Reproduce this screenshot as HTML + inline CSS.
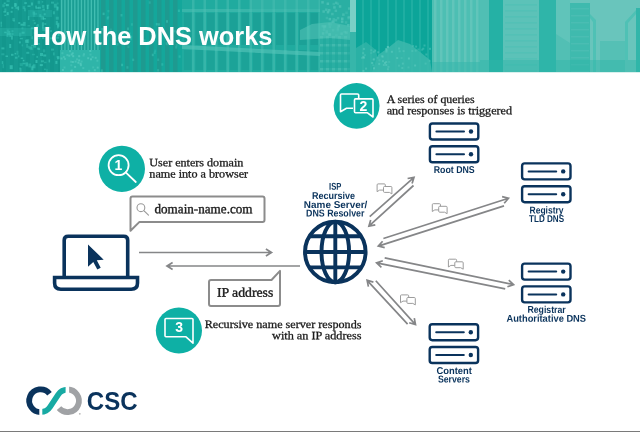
<!DOCTYPE html>
<html>
<head>
<meta charset="utf-8">
<title>How the DNS works</title>
<style>
html,body{margin:0;padding:0;background:#fff;}
body{width:640px;height:432px;position:relative;overflow:hidden;font-family:"Liberation Sans",sans-serif;}
#hdr{position:absolute;left:0;top:0;width:640px;height:72px;overflow:hidden;background:#1fa59a;}
#main{position:absolute;left:0;top:0;will-change:transform;}
#botline{position:absolute;left:0;top:431px;width:640px;height:1px;background:#7a7a7a;}
</style>
</head>
<body>
<div id="hdr">
<svg width="640" height="72" viewBox="0 0 640 72">
<defs>
<linearGradient id="hg" x1="0" x2="1" y1="0" y2="0">
<stop offset="0" stop-color="#14a296"/>
<stop offset="0.25" stop-color="#1aa69a"/>
<stop offset="0.5" stop-color="#2eb0a4"/>
<stop offset="1" stop-color="#3ab8ac"/>
</linearGradient>
</defs>
<rect width="640" height="72" fill="url(#hg)"/>
<rect x="0" y="0" width="100" height="72" fill="#169b91"/>
<rect x="2" y="0" width="4" height="72" fill="#0f9389" opacity="0.5"/>
<rect x="10" y="0" width="4" height="72" fill="#0f9389" opacity="0.5"/>
<rect x="18" y="0" width="4" height="72" fill="#0f9389" opacity="0.5"/>
<rect x="26" y="0" width="4" height="72" fill="#0f9389" opacity="0.5"/>
<rect x="34" y="0" width="4" height="72" fill="#0f9389" opacity="0.5"/>
<rect x="42" y="0" width="4" height="72" fill="#0f9389" opacity="0.5"/>
<rect x="50" y="0" width="4" height="72" fill="#0f9389" opacity="0.5"/>
<rect x="58" y="0" width="4" height="72" fill="#0f9389" opacity="0.5"/>
<rect x="26.2" y="39.2" width="3" height="4" fill="#38c2b4" opacity="0.58"/>
<rect x="34.1" y="12.9" width="3" height="2" fill="#38c2b4" opacity="0.39"/>
<rect x="17.6" y="6.3" width="1.5" height="4" fill="#38c2b4" opacity="0.78"/>
<rect x="37.9" y="43.1" width="2" height="1.5" fill="#38c2b4" opacity="0.72"/>
<rect x="3.7" y="2.5" width="2" height="1.5" fill="#38c2b4" opacity="0.7"/>
<rect x="18.9" y="41.4" width="2" height="2" fill="#38c2b4" opacity="0.64"/>
<rect x="29.0" y="46.4" width="3" height="3" fill="#38c2b4" opacity="0.53"/>
<rect x="32.0" y="65.2" width="1.5" height="3" fill="#38c2b4" opacity="0.49"/>
<rect x="13.3" y="20.2" width="1.5" height="1.5" fill="#38c2b4" opacity="0.53"/>
<rect x="49.1" y="27.1" width="1.5" height="1.5" fill="#38c2b4" opacity="0.45"/>
<rect x="53.8" y="3.7" width="3" height="4" fill="#38c2b4" opacity="0.54"/>
<rect x="32.8" y="13.9" width="2.5" height="3" fill="#38c2b4" opacity="0.39"/>
<rect x="19.3" y="67.5" width="1.5" height="2" fill="#38c2b4" opacity="0.46"/>
<rect x="5.9" y="4.2" width="3" height="2" fill="#38c2b4" opacity="0.66"/>
<rect x="10.9" y="35.6" width="2" height="4" fill="#38c2b4" opacity="0.64"/>
<rect x="6.8" y="29.5" width="2" height="1.5" fill="#38c2b4" opacity="0.47"/>
<rect x="56.3" y="56.2" width="2.5" height="1.5" fill="#38c2b4" opacity="0.44"/>
<rect x="22.9" y="59.8" width="1.5" height="1.5" fill="#38c2b4" opacity="0.8"/>
<rect x="12.4" y="18.1" width="2.5" height="3" fill="#38c2b4" opacity="0.52"/>
<rect x="4.3" y="14.6" width="2" height="1.5" fill="#38c2b4" opacity="0.62"/>
<rect x="21.6" y="31.7" width="3" height="2" fill="#38c2b4" opacity="0.74"/>
<rect x="10.6" y="10.8" width="2" height="2" fill="#38c2b4" opacity="0.68"/>
<rect x="9.2" y="44.0" width="2" height="4" fill="#38c2b4" opacity="0.75"/>
<rect x="35.0" y="29.5" width="1.5" height="1.5" fill="#38c2b4" opacity="0.37"/>
<rect x="55.8" y="16.7" width="3" height="3" fill="#38c2b4" opacity="0.54"/>
<rect x="52.5" y="34.4" width="2" height="1.5" fill="#38c2b4" opacity="0.41"/>
<rect x="27.8" y="45.7" width="1.5" height="3" fill="#38c2b4" opacity="0.45"/>
<rect x="53.1" y="52.4" width="1.5" height="3" fill="#38c2b4" opacity="0.54"/>
<rect x="14.4" y="3.3" width="2.5" height="3" fill="#38c2b4" opacity="0.59"/>
<rect x="56.4" y="6.5" width="2" height="4" fill="#38c2b4" opacity="0.79"/>
<rect x="38.1" y="48.4" width="2" height="1.5" fill="#38c2b4" opacity="0.77"/>
<rect x="27.5" y="25.0" width="2.5" height="1.5" fill="#38c2b4" opacity="0.36"/>
<rect x="36.9" y="33.8" width="2.5" height="3" fill="#38c2b4" opacity="0.41"/>
<rect x="4.2" y="31.7" width="2.5" height="1.5" fill="#38c2b4" opacity="0.76"/>
<rect x="42.8" y="49.3" width="2.5" height="3" fill="#38c2b4" opacity="0.39"/>
<rect x="27.5" y="5.4" width="3" height="1.5" fill="#38c2b4" opacity="0.74"/>
<rect x="33.2" y="43.7" width="3" height="4" fill="#38c2b4" opacity="0.61"/>
<rect x="35.3" y="5.6" width="1.5" height="3" fill="#38c2b4" opacity="0.75"/>
<rect x="42.2" y="27.2" width="3" height="4" fill="#38c2b4" opacity="0.56"/>
<rect x="31.4" y="36.3" width="1.5" height="3" fill="#38c2b4" opacity="0.62"/>
<rect x="27.9" y="16.1" width="1.5" height="4" fill="#38c2b4" opacity="0.7"/>
<rect x="38.3" y="34.0" width="1.5" height="3" fill="#38c2b4" opacity="0.49"/>
<rect x="39.3" y="14.2" width="2" height="3" fill="#38c2b4" opacity="0.65"/>
<rect x="25.6" y="62.4" width="2.5" height="4" fill="#38c2b4" opacity="0.65"/>
<rect x="11.5" y="30.2" width="2" height="2" fill="#38c2b4" opacity="0.52"/>
<rect x="33.8" y="22.2" width="2" height="2" fill="#38c2b4" opacity="0.57"/>
<rect x="48.6" y="59.4" width="1.5" height="3" fill="#38c2b4" opacity="0.72"/>
<rect x="6.5" y="33.0" width="2" height="4" fill="#38c2b4" opacity="0.52"/>
<rect x="30.2" y="47.1" width="3" height="3" fill="#38c2b4" opacity="0.38"/>
<rect x="1.8" y="61.1" width="1.5" height="3" fill="#38c2b4" opacity="0.61"/>
<rect x="17.9" y="55.4" width="1.5" height="2" fill="#38c2b4" opacity="0.53"/>
<rect x="11.0" y="53.8" width="2.5" height="2" fill="#38c2b4" opacity="0.7"/>
<rect x="46.2" y="68.9" width="1.5" height="4" fill="#38c2b4" opacity="0.4"/>
<rect x="31.1" y="44.8" width="2.5" height="1.5" fill="#38c2b4" opacity="0.66"/>
<rect x="11.6" y="33.3" width="2" height="1.5" fill="#38c2b4" opacity="0.69"/>
<rect x="31.0" y="2.5" width="2" height="3" fill="#38c2b4" opacity="0.7"/>
<rect x="31.3" y="66.3" width="2" height="4" fill="#38c2b4" opacity="0.73"/>
<rect x="40.6" y="15.7" width="3" height="4" fill="#38c2b4" opacity="0.41"/>
<rect x="26.3" y="43.8" width="1.5" height="4" fill="#38c2b4" opacity="0.6"/>
<rect x="37.9" y="35.2" width="2.5" height="4" fill="#38c2b4" opacity="0.5"/>
<rect x="57.0" y="6.9" width="1.5" height="2" fill="#38c2b4" opacity="0.46"/>
<rect x="22.6" y="6.1" width="2.5" height="3" fill="#38c2b4" opacity="0.47"/>
<rect x="41.7" y="1.1" width="1.5" height="1.5" fill="#38c2b4" opacity="0.55"/>
<rect x="31.9" y="53.8" width="3" height="1.5" fill="#38c2b4" opacity="0.45"/>
<rect x="50.3" y="30.0" width="1.5" height="2" fill="#38c2b4" opacity="0.59"/>
<rect x="39.8" y="64.1" width="3" height="2" fill="#38c2b4" opacity="0.8"/>
<rect x="52.2" y="36.3" width="3" height="4" fill="#38c2b4" opacity="0.61"/>
<rect x="40.0" y="53.0" width="3" height="3" fill="#38c2b4" opacity="0.72"/>
<rect x="32.6" y="11.5" width="2.5" height="3" fill="#38c2b4" opacity="0.65"/>
<rect x="55.4" y="60.9" width="2" height="3" fill="#38c2b4" opacity="0.73"/>
<rect x="56.2" y="36.7" width="3" height="2" fill="#38c2b4" opacity="0.53"/>
<rect x="6.6" y="0.3" width="3" height="1.5" fill="#38c2b4" opacity="0.59"/>
<rect x="2.5" y="64.2" width="1.5" height="4" fill="#38c2b4" opacity="0.39"/>
<rect x="9.7" y="65.2" width="3" height="4" fill="#38c2b4" opacity="0.76"/>
<rect x="46.4" y="28.3" width="2" height="4" fill="#38c2b4" opacity="0.57"/>
<rect x="19.7" y="63.1" width="3" height="3" fill="#38c2b4" opacity="0.4"/>
<rect x="24.3" y="2.1" width="2.5" height="2" fill="#38c2b4" opacity="0.67"/>
<rect x="56.7" y="2.5" width="2" height="2" fill="#38c2b4" opacity="0.36"/>
<rect x="16.5" y="50.7" width="2" height="4" fill="#38c2b4" opacity="0.4"/>
<rect x="42.4" y="8.6" width="2.5" height="2" fill="#38c2b4" opacity="0.67"/>
<rect x="51.0" y="1.6" width="3" height="2" fill="#38c2b4" opacity="0.59"/>
<rect x="50.1" y="37.4" width="2" height="2" fill="#38c2b4" opacity="0.73"/>
<rect x="35.5" y="60.0" width="2" height="3" fill="#38c2b4" opacity="0.76"/>
<rect x="18.3" y="22.0" width="2" height="2" fill="#38c2b4" opacity="0.7"/>
<rect x="11.3" y="6.8" width="2" height="2" fill="#38c2b4" opacity="0.68"/>
<rect x="15.1" y="6.8" width="3" height="2" fill="#38c2b4" opacity="0.44"/>
<rect x="36.4" y="55.9" width="1.5" height="2" fill="#38c2b4" opacity="0.61"/>
<rect x="20.7" y="57.5" width="2.5" height="1.5" fill="#38c2b4" opacity="0.67"/>
<rect x="36.8" y="24.0" width="2" height="1.5" fill="#38c2b4" opacity="0.57"/>
<rect x="1.4" y="53.3" width="3" height="2" fill="#38c2b4" opacity="0.44"/>
<rect x="6.7" y="12.1" width="2" height="3" fill="#38c2b4" opacity="0.77"/>
<rect x="5.5" y="4.3" width="3" height="1.5" fill="#38c2b4" opacity="0.69"/>
<rect x="19.0" y="32.7" width="2.5" height="4" fill="#38c2b4" opacity="0.44"/>
<rect x="21.6" y="44.4" width="1.5" height="2" fill="#38c2b4" opacity="0.43"/>
<rect x="26.3" y="51.8" width="3" height="2" fill="#38c2b4" opacity="0.62"/>
<rect x="5.5" y="55.5" width="2.5" height="1.5" fill="#38c2b4" opacity="0.71"/>
<rect x="40.9" y="60.3" width="3" height="2" fill="#38c2b4" opacity="0.58"/>
<rect x="57.0" y="56.3" width="2.5" height="3" fill="#38c2b4" opacity="0.76"/>
<rect x="43.2" y="54.5" width="3" height="2" fill="#38c2b4" opacity="0.75"/>
<rect x="51.0" y="48.6" width="3" height="2" fill="#38c2b4" opacity="0.53"/>
<rect x="41.9" y="4.9" width="2.5" height="3" fill="#38c2b4" opacity="0.56"/>
<rect x="0.6" y="24.9" width="1.5" height="2" fill="#38c2b4" opacity="0.47"/>
<rect x="55.8" y="20.9" width="2" height="4" fill="#38c2b4" opacity="0.61"/>
<rect x="30.9" y="27.3" width="3" height="2" fill="#38c2b4" opacity="0.67"/>
<rect x="44.2" y="68.6" width="1.5" height="1.5" fill="#38c2b4" opacity="0.63"/>
<rect x="42.9" y="18.0" width="3" height="1.5" fill="#38c2b4" opacity="0.69"/>
<rect x="37.6" y="0.8" width="2.5" height="3" fill="#38c2b4" opacity="0.47"/>
<rect x="19.8" y="37.8" width="3" height="1.5" fill="#38c2b4" opacity="0.64"/>
<rect x="47.0" y="5.3" width="1.5" height="4" fill="#38c2b4" opacity="0.77"/>
<rect x="9.3" y="33.0" width="2" height="4" fill="#38c2b4" opacity="0.59"/>
<rect x="34.6" y="30.1" width="3" height="4" fill="#38c2b4" opacity="0.48"/>
<rect x="23.1" y="21.9" width="2.5" height="4" fill="#38c2b4" opacity="0.64"/>
<rect x="32.5" y="19.8" width="2.5" height="1.5" fill="#38c2b4" opacity="0.36"/>
<rect x="14.2" y="3.0" width="2" height="4" fill="#38c2b4" opacity="0.69"/>
<rect x="22.6" y="62.8" width="3" height="1.5" fill="#38c2b4" opacity="0.61"/>
<rect x="41.9" y="22.3" width="2" height="4" fill="#38c2b4" opacity="0.67"/>
<rect x="14.6" y="52.9" width="1.5" height="1.5" fill="#38c2b4" opacity="0.77"/>
<rect x="41.9" y="32.8" width="2" height="1.5" fill="#38c2b4" opacity="0.37"/>
<rect x="24.2" y="8.3" width="1.5" height="3" fill="#38c2b4" opacity="0.59"/>
<rect x="7.2" y="31.0" width="3" height="4" fill="#38c2b4" opacity="0.62"/>
<rect x="37.1" y="47.7" width="2.5" height="2" fill="#38c2b4" opacity="0.78"/>
<rect x="42.6" y="16.7" width="1.5" height="3" fill="#38c2b4" opacity="0.7"/>
<rect x="36.2" y="25.1" width="2.5" height="2" fill="#38c2b4" opacity="0.63"/>
<rect x="43.7" y="13.3" width="2" height="2" fill="#38c2b4" opacity="0.75"/>
<rect x="2.3" y="4.3" width="2.5" height="3" fill="#38c2b4" opacity="0.54"/>
<rect x="36.2" y="7.2" width="2.5" height="1.5" fill="#38c2b4" opacity="0.69"/>
<rect x="52.9" y="11.3" width="2" height="3" fill="#38c2b4" opacity="0.57"/>
<rect x="20.5" y="23.7" width="3" height="2" fill="#38c2b4" opacity="0.73"/>
<rect x="4.3" y="8.4" width="2" height="4" fill="#38c2b4" opacity="0.54"/>
<rect x="15.0" y="56.7" width="2.5" height="2" fill="#38c2b4" opacity="0.64"/>
<rect x="57.4" y="22.8" width="2" height="4" fill="#38c2b4" opacity="0.64"/>
<rect x="33.7" y="32.3" width="2.5" height="1.5" fill="#38c2b4" opacity="0.59"/>
<rect x="25.1" y="39.8" width="3" height="3" fill="#38c2b4" opacity="0.72"/>
<rect x="0.5" y="21.7" width="1.5" height="3" fill="#38c2b4" opacity="0.57"/>
<rect x="44.3" y="23.0" width="2" height="2" fill="#38c2b4" opacity="0.51"/>
<rect x="42.1" y="25.6" width="1.5" height="3" fill="#38c2b4" opacity="0.67"/>
<rect x="33.0" y="64.3" width="2.5" height="4" fill="#38c2b4" opacity="0.59"/>
<rect x="57.6" y="32.1" width="2" height="4" fill="#38c2b4" opacity="0.79"/>
<rect x="42.3" y="36.1" width="1.5" height="3" fill="#38c2b4" opacity="0.72"/>
<rect x="1.4" y="47.4" width="3" height="2" fill="#38c2b4" opacity="0.68"/>
<rect x="21.4" y="27.3" width="2" height="2" fill="#38c2b4" opacity="0.43"/>
<rect x="44.0" y="61.7" width="2.5" height="1.5" fill="#38c2b4" opacity="0.45"/>
<rect x="3.3" y="11.1" width="2.5" height="1.5" fill="#38c2b4" opacity="0.64"/>
<rect x="46.7" y="4.5" width="2.5" height="1.5" fill="#38c2b4" opacity="0.5"/>
<rect x="15.9" y="7.4" width="2.5" height="1.5" fill="#38c2b4" opacity="0.36"/>
<rect x="37.9" y="6.8" width="3" height="2" fill="#38c2b4" opacity="0.67"/>
<rect x="28.4" y="63.5" width="2.5" height="4" fill="#38c2b4" opacity="0.53"/>
<rect x="19.6" y="67.8" width="2" height="4" fill="#38c2b4" opacity="0.57"/>
<rect x="46.7" y="5.1" width="1.5" height="4" fill="#38c2b4" opacity="0.69"/>
<rect x="57.2" y="24.4" width="1.5" height="4" fill="#38c2b4" opacity="0.73"/>
<rect x="0" y="28" width="32" height="8" fill="#30bbae" opacity="0.35"/>
<rect x="28" y="10" width="24" height="7" fill="#30bbae" opacity="0.3"/>
<rect x="60" y="0" width="40" height="50" fill="#1b9e94"/>
<rect x="61" y="0" width="1.3" height="50" fill="#4cc6b9" opacity="0.8"/>
<rect x="64.3" y="0" width="1.3" height="50" fill="#4cc6b9" opacity="0.8"/>
<rect x="67.6" y="0" width="1.3" height="50" fill="#4cc6b9" opacity="0.8"/>
<rect x="70.9" y="0" width="1.3" height="50" fill="#4cc6b9" opacity="0.8"/>
<rect x="74.2" y="0" width="1.3" height="50" fill="#4cc6b9" opacity="0.8"/>
<rect x="77.5" y="0" width="1.3" height="50" fill="#4cc6b9" opacity="0.8"/>
<rect x="80.8" y="0" width="1.3" height="50" fill="#4cc6b9" opacity="0.8"/>
<rect x="84.1" y="0" width="1.3" height="50" fill="#4cc6b9" opacity="0.8"/>
<rect x="87.4" y="0" width="1.3" height="50" fill="#4cc6b9" opacity="0.8"/>
<rect x="90.7" y="0" width="1.3" height="50" fill="#4cc6b9" opacity="0.8"/>
<rect x="94.0" y="0" width="1.3" height="50" fill="#4cc6b9" opacity="0.8"/>
<rect x="97.3" y="0" width="1.3" height="50" fill="#4cc6b9" opacity="0.8"/>
<rect x="60" y="50" width="40" height="22" fill="#2fb5a9"/>
<rect x="93.8" y="69.2" width="2" height="2" fill="#55cbbf" opacity="0.66"/>
<rect x="79.9" y="64.2" width="2" height="2" fill="#55cbbf" opacity="0.72"/>
<rect x="76.0" y="58.4" width="2" height="2" fill="#55cbbf" opacity="0.46"/>
<rect x="88.2" y="69.8" width="2" height="2" fill="#55cbbf" opacity="0.55"/>
<rect x="66.4" y="54.1" width="2" height="2" fill="#55cbbf" opacity="0.57"/>
<rect x="71.1" y="69.4" width="2" height="2" fill="#55cbbf" opacity="0.42"/>
<rect x="71.7" y="52.3" width="2" height="2" fill="#55cbbf" opacity="0.66"/>
<rect x="89.5" y="53.6" width="2" height="2" fill="#55cbbf" opacity="0.42"/>
<rect x="77.4" y="61.7" width="2" height="2" fill="#55cbbf" opacity="0.76"/>
<rect x="61.4" y="52.2" width="2" height="2" fill="#55cbbf" opacity="0.47"/>
<rect x="68.3" y="54.7" width="2" height="2" fill="#55cbbf" opacity="0.69"/>
<rect x="82.6" y="54.5" width="2" height="2" fill="#55cbbf" opacity="0.47"/>
<rect x="70.7" y="53.5" width="2" height="2" fill="#55cbbf" opacity="0.7"/>
<rect x="71.8" y="61.0" width="2" height="2" fill="#55cbbf" opacity="0.73"/>
<rect x="78.2" y="55.2" width="2" height="2" fill="#55cbbf" opacity="0.75"/>
<rect x="94.7" y="56.8" width="2" height="2" fill="#55cbbf" opacity="0.62"/>
<rect x="96.4" y="59.7" width="2" height="2" fill="#55cbbf" opacity="0.49"/>
<rect x="61.9" y="69.0" width="2" height="2" fill="#55cbbf" opacity="0.72"/>
<rect x="74.6" y="60.6" width="2" height="2" fill="#55cbbf" opacity="0.61"/>
<rect x="70.4" y="69.8" width="2" height="2" fill="#55cbbf" opacity="0.66"/>
<rect x="69.0" y="50.2" width="2" height="2" fill="#55cbbf" opacity="0.59"/>
<rect x="74.1" y="65.9" width="2" height="2" fill="#55cbbf" opacity="0.69"/>
<rect x="83.0" y="53.1" width="2" height="2" fill="#55cbbf" opacity="0.46"/>
<rect x="72.2" y="55.2" width="2" height="2" fill="#55cbbf" opacity="0.75"/>
<rect x="79.6" y="62.7" width="2" height="2" fill="#55cbbf" opacity="0.8"/>
<rect x="70.1" y="60.7" width="2" height="2" fill="#55cbbf" opacity="0.46"/>
<rect x="89.3" y="50.0" width="2" height="2" fill="#55cbbf" opacity="0.73"/>
<rect x="92.2" y="66.4" width="2" height="2" fill="#55cbbf" opacity="0.43"/>
<rect x="70.3" y="64.3" width="2" height="2" fill="#55cbbf" opacity="0.44"/>
<rect x="78.2" y="59.4" width="2" height="2" fill="#55cbbf" opacity="0.78"/>
<rect x="82.3" y="67.1" width="2" height="2" fill="#55cbbf" opacity="0.52"/>
<rect x="90.0" y="58.3" width="2" height="2" fill="#55cbbf" opacity="0.77"/>
<rect x="63.5" y="66.5" width="2" height="2" fill="#55cbbf" opacity="0.48"/>
<rect x="80.6" y="60.5" width="2" height="2" fill="#55cbbf" opacity="0.46"/>
<rect x="91.6" y="56.2" width="2" height="2" fill="#55cbbf" opacity="0.52"/>
<rect x="62.9" y="56.1" width="2" height="2" fill="#55cbbf" opacity="0.59"/>
<rect x="87.2" y="57.2" width="2" height="2" fill="#55cbbf" opacity="0.67"/>
<rect x="64.0" y="57.9" width="2" height="2" fill="#55cbbf" opacity="0.58"/>
<rect x="96.7" y="66.6" width="2" height="2" fill="#55cbbf" opacity="0.66"/>
<rect x="60.5" y="57.5" width="2" height="2" fill="#55cbbf" opacity="0.68"/>
<rect x="100" y="0" width="82" height="72" fill="#14a79b"/>
<rect x="101" y="0" width="4.5" height="72" fill="#278f87" opacity="0.55"/>
<rect x="109" y="0" width="4.5" height="72" fill="#278f87" opacity="0.55"/>
<rect x="117" y="0" width="4.5" height="72" fill="#278f87" opacity="0.55"/>
<rect x="125" y="0" width="4.5" height="72" fill="#278f87" opacity="0.55"/>
<rect x="133" y="0" width="4.5" height="72" fill="#278f87" opacity="0.55"/>
<rect x="141" y="0" width="4.5" height="72" fill="#278f87" opacity="0.55"/>
<rect x="149" y="0" width="4.5" height="72" fill="#278f87" opacity="0.55"/>
<rect x="157" y="0" width="4.5" height="72" fill="#278f87" opacity="0.55"/>
<rect x="165" y="0" width="4.5" height="72" fill="#278f87" opacity="0.55"/>
<rect x="173" y="0" width="4.5" height="72" fill="#278f87" opacity="0.55"/>
<rect x="119.0" y="39.5" width="2" height="2.5" fill="#3cc4b6" opacity="0.44"/>
<rect x="100.8" y="69.4" width="2" height="2.5" fill="#3cc4b6" opacity="0.54"/>
<rect x="116.5" y="43.1" width="2" height="2.5" fill="#3cc4b6" opacity="0.39"/>
<rect x="130.1" y="37.8" width="2" height="2.5" fill="#3cc4b6" opacity="0.39"/>
<rect x="127.0" y="27.5" width="2" height="2.5" fill="#3cc4b6" opacity="0.5"/>
<rect x="120.5" y="14.0" width="2" height="2.5" fill="#3cc4b6" opacity="0.52"/>
<rect x="126.4" y="66.2" width="2" height="2.5" fill="#3cc4b6" opacity="0.47"/>
<rect x="157.9" y="23.2" width="2" height="2.5" fill="#3cc4b6" opacity="0.55"/>
<rect x="107.4" y="9.9" width="2" height="2.5" fill="#3cc4b6" opacity="0.33"/>
<rect x="154.2" y="49.6" width="2" height="2.5" fill="#3cc4b6" opacity="0.35"/>
<rect x="132.2" y="58.6" width="2" height="2.5" fill="#3cc4b6" opacity="0.48"/>
<rect x="107.2" y="15.9" width="2" height="2.5" fill="#3cc4b6" opacity="0.35"/>
<rect x="109.9" y="28.5" width="2" height="2.5" fill="#3cc4b6" opacity="0.32"/>
<rect x="173.6" y="29.9" width="2" height="2.5" fill="#3cc4b6" opacity="0.45"/>
<rect x="151.8" y="53.7" width="2" height="2.5" fill="#3cc4b6" opacity="0.55"/>
<rect x="130.9" y="23.2" width="2" height="2.5" fill="#3cc4b6" opacity="0.42"/>
<rect x="101.2" y="28.0" width="2" height="2.5" fill="#3cc4b6" opacity="0.51"/>
<rect x="178.6" y="55.3" width="2" height="2.5" fill="#3cc4b6" opacity="0.5"/>
<rect x="148.7" y="1.3" width="2" height="2.5" fill="#3cc4b6" opacity="0.4"/>
<rect x="127.4" y="45.6" width="2" height="2.5" fill="#3cc4b6" opacity="0.33"/>
<rect x="130.2" y="35.7" width="2" height="2.5" fill="#3cc4b6" opacity="0.54"/>
<rect x="166.0" y="42.8" width="2" height="2.5" fill="#3cc4b6" opacity="0.35"/>
<rect x="161.3" y="63.2" width="2" height="2.5" fill="#3cc4b6" opacity="0.46"/>
<rect x="128.2" y="35.0" width="2" height="2.5" fill="#3cc4b6" opacity="0.34"/>
<rect x="157.1" y="69.1" width="2" height="2.5" fill="#3cc4b6" opacity="0.45"/>
<rect x="157.2" y="58.5" width="2" height="2.5" fill="#3cc4b6" opacity="0.36"/>
<rect x="175.6" y="43.9" width="2" height="2.5" fill="#3cc4b6" opacity="0.36"/>
<rect x="106.7" y="17.1" width="2" height="2.5" fill="#3cc4b6" opacity="0.47"/>
<rect x="155.8" y="23.0" width="2" height="2.5" fill="#3cc4b6" opacity="0.58"/>
<rect x="128.9" y="32.4" width="2" height="2.5" fill="#3cc4b6" opacity="0.34"/>
<rect x="177.9" y="9.5" width="2" height="2.5" fill="#3cc4b6" opacity="0.57"/>
<rect x="143.5" y="39.3" width="2" height="2.5" fill="#3cc4b6" opacity="0.47"/>
<rect x="121.1" y="63.7" width="2" height="2.5" fill="#3cc4b6" opacity="0.6"/>
<rect x="165.4" y="42.1" width="2" height="2.5" fill="#3cc4b6" opacity="0.34"/>
<rect x="166.0" y="20.2" width="2" height="2.5" fill="#3cc4b6" opacity="0.57"/>
<rect x="119.3" y="40.2" width="2" height="2.5" fill="#3cc4b6" opacity="0.55"/>
<rect x="114.8" y="38.3" width="2" height="2.5" fill="#3cc4b6" opacity="0.32"/>
<rect x="102.6" y="12.6" width="2" height="2.5" fill="#3cc4b6" opacity="0.6"/>
<rect x="175.2" y="46.1" width="2" height="2.5" fill="#3cc4b6" opacity="0.39"/>
<rect x="153.7" y="51.6" width="2" height="2.5" fill="#3cc4b6" opacity="0.41"/>
<rect x="182" y="0" width="138" height="72" fill="#20ab9f"/>
<rect x="184" y="13" width="7.5" height="32" fill="#1a9f95" opacity="0.8"/>
<rect x="184" y="50" width="7.5" height="20" fill="#1a9f95" opacity="0.6"/>
<rect x="192" y="0" width="2.5" height="72" fill="#55c4b8" opacity="0.42"/>
<rect x="195.5" y="13" width="7.5" height="32" fill="#1a9f95" opacity="0.8"/>
<rect x="195.5" y="50" width="7.5" height="20" fill="#1a9f95" opacity="0.6"/>
<rect x="203.5" y="0" width="2.5" height="72" fill="#55c4b8" opacity="0.42"/>
<rect x="207.0" y="13" width="7.5" height="32" fill="#1a9f95" opacity="0.8"/>
<rect x="207.0" y="50" width="7.5" height="20" fill="#1a9f95" opacity="0.6"/>
<rect x="215.0" y="0" width="2.5" height="72" fill="#55c4b8" opacity="0.42"/>
<rect x="218.5" y="13" width="7.5" height="32" fill="#1a9f95" opacity="0.8"/>
<rect x="218.5" y="50" width="7.5" height="20" fill="#1a9f95" opacity="0.6"/>
<rect x="226.5" y="0" width="2.5" height="72" fill="#55c4b8" opacity="0.42"/>
<rect x="230.0" y="13" width="7.5" height="32" fill="#1a9f95" opacity="0.8"/>
<rect x="230.0" y="50" width="7.5" height="20" fill="#1a9f95" opacity="0.6"/>
<rect x="238.0" y="0" width="2.5" height="72" fill="#55c4b8" opacity="0.42"/>
<rect x="241.5" y="13" width="7.5" height="32" fill="#1a9f95" opacity="0.8"/>
<rect x="241.5" y="50" width="7.5" height="20" fill="#1a9f95" opacity="0.6"/>
<rect x="249.5" y="0" width="2.5" height="72" fill="#55c4b8" opacity="0.42"/>
<rect x="253.0" y="13" width="7.5" height="32" fill="#1a9f95" opacity="0.8"/>
<rect x="253.0" y="50" width="7.5" height="20" fill="#1a9f95" opacity="0.6"/>
<rect x="261.0" y="0" width="2.5" height="72" fill="#55c4b8" opacity="0.42"/>
<rect x="264.5" y="13" width="7.5" height="32" fill="#1a9f95" opacity="0.8"/>
<rect x="264.5" y="50" width="7.5" height="20" fill="#1a9f95" opacity="0.6"/>
<rect x="272.5" y="0" width="2.5" height="72" fill="#55c4b8" opacity="0.42"/>
<rect x="276.0" y="13" width="7.5" height="32" fill="#1a9f95" opacity="0.8"/>
<rect x="276.0" y="50" width="7.5" height="20" fill="#1a9f95" opacity="0.6"/>
<rect x="284.0" y="0" width="2.5" height="72" fill="#55c4b8" opacity="0.42"/>
<rect x="287.5" y="13" width="7.5" height="32" fill="#1a9f95" opacity="0.8"/>
<rect x="287.5" y="50" width="7.5" height="20" fill="#1a9f95" opacity="0.6"/>
<rect x="295.5" y="0" width="2.5" height="72" fill="#55c4b8" opacity="0.42"/>
<rect x="299.0" y="13" width="7.5" height="32" fill="#1a9f95" opacity="0.8"/>
<rect x="299.0" y="50" width="7.5" height="20" fill="#1a9f95" opacity="0.6"/>
<rect x="307.0" y="0" width="2.5" height="72" fill="#55c4b8" opacity="0.42"/>
<rect x="310.5" y="13" width="7.5" height="32" fill="#1a9f95" opacity="0.8"/>
<rect x="310.5" y="50" width="7.5" height="20" fill="#1a9f95" opacity="0.6"/>
<rect x="318.5" y="0" width="2.5" height="72" fill="#55c4b8" opacity="0.42"/>
<rect x="182" y="9" width="138" height="3" fill="#50c2b6" opacity="0.5"/>
<path d="M182,45 L320,52 L320,56 L182,49 Z" fill="#58c6ba" opacity="0.6"/>
<rect x="250" y="0" width="70" height="9" fill="#45bbaf" opacity="0.4"/>
<rect x="320" y="0" width="30" height="72" fill="#2aafa3"/>
<rect x="320" y="36" width="34" height="2.5" fill="#52c2b6" opacity="0.6"/>
<rect x="320" y="44" width="34" height="2.5" fill="#52c2b6" opacity="0.6"/>
<rect x="320" y="52" width="34" height="2.5" fill="#52c2b6" opacity="0.6"/>
<rect x="320" y="60" width="34" height="2.5" fill="#52c2b6" opacity="0.6"/>
<rect x="320" y="68" width="34" height="2.5" fill="#52c2b6" opacity="0.6"/>
<rect x="323" y="36" width="3" height="36" fill="#1fa89c" opacity="0.6"/>
<rect x="329" y="36" width="3" height="36" fill="#1fa89c" opacity="0.6"/>
<rect x="335" y="36" width="3" height="36" fill="#1fa89c" opacity="0.6"/>
<rect x="341" y="36" width="3" height="36" fill="#1fa89c" opacity="0.6"/>
<rect x="347" y="36" width="3" height="36" fill="#1fa89c" opacity="0.6"/>
<rect x="336.6" y="28.9" width="2.5" height="2.5" fill="#55c6ba" opacity="0.31"/>
<rect x="325.6" y="16.8" width="2.5" height="2.5" fill="#55c6ba" opacity="0.36"/>
<rect x="330.8" y="20.5" width="2.5" height="2.5" fill="#55c6ba" opacity="0.37"/>
<rect x="334.6" y="9.5" width="2.5" height="2.5" fill="#55c6ba" opacity="0.53"/>
<rect x="329.3" y="23.1" width="2.5" height="2.5" fill="#55c6ba" opacity="0.32"/>
<rect x="338.8" y="5.2" width="2.5" height="2.5" fill="#55c6ba" opacity="0.68"/>
<rect x="336.8" y="16.9" width="2.5" height="2.5" fill="#55c6ba" opacity="0.46"/>
<rect x="337.5" y="24.8" width="2.5" height="2.5" fill="#55c6ba" opacity="0.6"/>
<rect x="341.0" y="17.5" width="2.5" height="2.5" fill="#55c6ba" opacity="0.7"/>
<rect x="343.5" y="30.8" width="2.5" height="2.5" fill="#55c6ba" opacity="0.46"/>
<rect x="332.2" y="20.4" width="2.5" height="2.5" fill="#55c6ba" opacity="0.66"/>
<rect x="334.7" y="18.9" width="2.5" height="2.5" fill="#55c6ba" opacity="0.47"/>
<rect x="345.3" y="11.5" width="2.5" height="2.5" fill="#55c6ba" opacity="0.32"/>
<rect x="340.3" y="32.4" width="2.5" height="2.5" fill="#55c6ba" opacity="0.59"/>
<rect x="336.7" y="27.1" width="2.5" height="2.5" fill="#55c6ba" opacity="0.42"/>
<rect x="336.6" y="2.5" width="2.5" height="2.5" fill="#55c6ba" opacity="0.35"/>
<rect x="332.5" y="18.1" width="2.5" height="2.5" fill="#55c6ba" opacity="0.46"/>
<rect x="321.5" y="25.0" width="2.5" height="2.5" fill="#55c6ba" opacity="0.51"/>
<rect x="326.7" y="11.0" width="2.5" height="2.5" fill="#55c6ba" opacity="0.46"/>
<rect x="326.6" y="2.5" width="2.5" height="2.5" fill="#55c6ba" opacity="0.66"/>
<rect x="347.1" y="24.0" width="2.5" height="2.5" fill="#55c6ba" opacity="0.65"/>
<rect x="331.8" y="29.0" width="2.5" height="2.5" fill="#55c6ba" opacity="0.39"/>
<rect x="340.9" y="20.4" width="2.5" height="2.5" fill="#55c6ba" opacity="0.66"/>
<rect x="322.8" y="28.5" width="2.5" height="2.5" fill="#55c6ba" opacity="0.35"/>
<rect x="335.1" y="34.2" width="2.5" height="2.5" fill="#55c6ba" opacity="0.3"/>
<rect x="326.8" y="10.8" width="2.5" height="2.5" fill="#55c6ba" opacity="0.43"/>
<rect x="321.8" y="32.2" width="2.5" height="2.5" fill="#55c6ba" opacity="0.63"/>
<rect x="331.1" y="12.8" width="2.5" height="2.5" fill="#55c6ba" opacity="0.53"/>
<rect x="321.3" y="1.1" width="2.5" height="2.5" fill="#55c6ba" opacity="0.66"/>
<rect x="328.6" y="17.9" width="2.5" height="2.5" fill="#55c6ba" opacity="0.67"/>
<rect x="347.4" y="17.0" width="2.5" height="2.5" fill="#55c6ba" opacity="0.38"/>
<rect x="328.3" y="33.2" width="2.5" height="2.5" fill="#55c6ba" opacity="0.66"/>
<rect x="325.5" y="30.2" width="2.5" height="2.5" fill="#55c6ba" opacity="0.44"/>
<rect x="333.2" y="6.2" width="2.5" height="2.5" fill="#55c6ba" opacity="0.65"/>
<rect x="347.9" y="7.3" width="2.5" height="2.5" fill="#55c6ba" opacity="0.55"/>
<rect x="325.4" y="31.7" width="2.5" height="2.5" fill="#55c6ba" opacity="0.32"/>
<rect x="323.0" y="26.1" width="2.5" height="2.5" fill="#55c6ba" opacity="0.43"/>
<rect x="345.2" y="31.3" width="2.5" height="2.5" fill="#55c6ba" opacity="0.59"/>
<rect x="323.8" y="25.1" width="2.5" height="2.5" fill="#55c6ba" opacity="0.68"/>
<rect x="332.5" y="2.8" width="2.5" height="2.5" fill="#55c6ba" opacity="0.39"/>
<rect x="328.6" y="25.6" width="2.5" height="2.5" fill="#55c6ba" opacity="0.38"/>
<rect x="325.1" y="8.5" width="2.5" height="2.5" fill="#55c6ba" opacity="0.57"/>
<rect x="342.1" y="13.4" width="2.5" height="2.5" fill="#55c6ba" opacity="0.56"/>
<rect x="344.8" y="21.2" width="2.5" height="2.5" fill="#55c6ba" opacity="0.39"/>
<rect x="328.4" y="33.4" width="2.5" height="2.5" fill="#55c6ba" opacity="0.57"/>
<rect x="327.8" y="23.0" width="2.5" height="2.5" fill="#55c6ba" opacity="0.34"/>
<rect x="347.5" y="15.9" width="2.5" height="2.5" fill="#55c6ba" opacity="0.51"/>
<rect x="334.9" y="1.6" width="2.5" height="2.5" fill="#55c6ba" opacity="0.54"/>
<rect x="328.0" y="9.0" width="2.5" height="2.5" fill="#55c6ba" opacity="0.62"/>
<rect x="322.4" y="10.3" width="2.5" height="2.5" fill="#55c6ba" opacity="0.6"/>
<path d="M300,30 L312,24 L330,22 L350,26 L350,40 L330,38 L300,40 Z" fill="#55c4b8" opacity="0.55"/>
<rect x="350" y="0" width="6" height="32" fill="#7bd0c6"/>
<rect x="350" y="32" width="6" height="40" fill="#36b6aa"/>
<rect x="356" y="0" width="76" height="72" fill="#0ca599"/>
<rect x="362" y="0" width="2" height="72" fill="#2cb4a8" opacity="0.6"/>
<rect x="370" y="0" width="2" height="72" fill="#2cb4a8" opacity="0.6"/>
<rect x="378" y="0" width="2" height="72" fill="#2cb4a8" opacity="0.6"/>
<rect x="387" y="0" width="2" height="72" fill="#2cb4a8" opacity="0.6"/>
<rect x="395" y="0" width="2" height="72" fill="#2cb4a8" opacity="0.6"/>
<rect x="403" y="0" width="2" height="72" fill="#2cb4a8" opacity="0.6"/>
<rect x="411" y="0" width="2" height="72" fill="#2cb4a8" opacity="0.6"/>
<rect x="419" y="0" width="2" height="72" fill="#2cb4a8" opacity="0.6"/>
<rect x="427" y="0" width="2" height="72" fill="#2cb4a8" opacity="0.6"/>
<path d="M372,72 L378,55 L388,48 L398,40 L410,44 L420,52 L430,60 L432,72 Z" fill="#3db9ad" opacity="0.85"/>
<path d="M356,72 L356,48 L366,42 L376,50 L380,72 Z" fill="#38b6aa" opacity="0.7"/>
<rect x="377.2" y="51.3" width="2" height="2" fill="#5ccabe" opacity="0.52"/>
<rect x="373.0" y="67.3" width="2" height="2" fill="#5ccabe" opacity="0.7"/>
<rect x="362.4" y="56.0" width="2" height="2" fill="#5ccabe" opacity="0.6"/>
<rect x="386.9" y="68.2" width="2" height="2" fill="#5ccabe" opacity="0.5"/>
<rect x="372.6" y="58.5" width="2" height="2" fill="#5ccabe" opacity="0.56"/>
<rect x="385.2" y="61.1" width="2" height="2" fill="#5ccabe" opacity="0.61"/>
<rect x="396.2" y="57.1" width="2" height="2" fill="#5ccabe" opacity="0.64"/>
<rect x="407.9" y="57.5" width="2" height="2" fill="#5ccabe" opacity="0.68"/>
<rect x="372.2" y="64.3" width="2" height="2" fill="#5ccabe" opacity="0.37"/>
<rect x="402.6" y="50.1" width="2" height="2" fill="#5ccabe" opacity="0.48"/>
<rect x="414.1" y="64.5" width="2" height="2" fill="#5ccabe" opacity="0.62"/>
<rect x="376.5" y="56.7" width="2" height="2" fill="#5ccabe" opacity="0.39"/>
<rect x="400.6" y="57.0" width="2" height="2" fill="#5ccabe" opacity="0.31"/>
<rect x="401.8" y="62.6" width="2" height="2" fill="#5ccabe" opacity="0.53"/>
<rect x="421.1" y="48.7" width="2" height="2" fill="#5ccabe" opacity="0.36"/>
<rect x="361.2" y="56.9" width="2" height="2" fill="#5ccabe" opacity="0.47"/>
<rect x="390.9" y="50.8" width="2" height="2" fill="#5ccabe" opacity="0.62"/>
<rect x="365.1" y="67.6" width="2" height="2" fill="#5ccabe" opacity="0.53"/>
<rect x="398.0" y="64.6" width="2" height="2" fill="#5ccabe" opacity="0.4"/>
<rect x="370.2" y="52.1" width="2" height="2" fill="#5ccabe" opacity="0.32"/>
<rect x="382.0" y="60.2" width="2" height="2" fill="#5ccabe" opacity="0.51"/>
<rect x="378.5" y="59.3" width="2" height="2" fill="#5ccabe" opacity="0.34"/>
<rect x="417.4" y="48.5" width="2" height="2" fill="#5ccabe" opacity="0.4"/>
<rect x="371.2" y="62.0" width="2" height="2" fill="#5ccabe" opacity="0.63"/>
<rect x="415.1" y="45.6" width="2" height="2" fill="#5ccabe" opacity="0.46"/>
<rect x="385.5" y="49.6" width="2" height="2" fill="#5ccabe" opacity="0.69"/>
<rect x="362.9" y="56.7" width="2" height="2" fill="#5ccabe" opacity="0.6"/>
<rect x="429.0" y="47.8" width="2" height="2" fill="#5ccabe" opacity="0.48"/>
<rect x="412.1" y="45.0" width="2" height="2" fill="#5ccabe" opacity="0.4"/>
<rect x="422.3" y="47.7" width="2" height="2" fill="#5ccabe" opacity="0.46"/>
<rect x="380.9" y="55.0" width="2" height="2" fill="#5ccabe" opacity="0.33"/>
<rect x="362.4" y="69.9" width="2" height="2" fill="#5ccabe" opacity="0.61"/>
<rect x="411.4" y="50.0" width="2" height="2" fill="#5ccabe" opacity="0.4"/>
<rect x="398.6" y="50.3" width="2" height="2" fill="#5ccabe" opacity="0.48"/>
<rect x="425.3" y="53.5" width="2" height="2" fill="#5ccabe" opacity="0.43"/>
<rect x="428.7" y="59.9" width="2" height="2" fill="#5ccabe" opacity="0.32"/>
<rect x="388.2" y="60.9" width="2" height="2" fill="#5ccabe" opacity="0.32"/>
<rect x="384.0" y="62.1" width="2" height="2" fill="#5ccabe" opacity="0.65"/>
<rect x="401.3" y="67.0" width="2" height="2" fill="#5ccabe" opacity="0.49"/>
<rect x="387.5" y="65.9" width="2" height="2" fill="#5ccabe" opacity="0.45"/>
<rect x="414.7" y="49.6" width="2" height="2" fill="#5ccabe" opacity="0.44"/>
<rect x="372.9" y="58.3" width="2" height="2" fill="#5ccabe" opacity="0.37"/>
<rect x="374.3" y="49.6" width="2" height="2" fill="#5ccabe" opacity="0.49"/>
<rect x="381.6" y="55.6" width="2" height="2" fill="#5ccabe" opacity="0.7"/>
<rect x="407.5" y="66.4" width="2" height="2" fill="#5ccabe" opacity="0.38"/>
<rect x="386.8" y="45.9" width="2" height="2" fill="#5ccabe" opacity="0.58"/>
<rect x="385.4" y="51.1" width="2" height="2" fill="#5ccabe" opacity="0.31"/>
<rect x="372.7" y="50.8" width="2" height="2" fill="#5ccabe" opacity="0.46"/>
<rect x="424.6" y="62.6" width="2" height="2" fill="#5ccabe" opacity="0.41"/>
<rect x="385.3" y="48.0" width="2" height="2" fill="#5ccabe" opacity="0.67"/>
<rect x="385.2" y="63.9" width="2" height="2" fill="#5ccabe" opacity="0.59"/>
<rect x="423.5" y="44.5" width="2" height="2" fill="#5ccabe" opacity="0.43"/>
<rect x="386.9" y="46.2" width="2" height="2" fill="#5ccabe" opacity="0.65"/>
<rect x="382.8" y="64.0" width="2" height="2" fill="#5ccabe" opacity="0.51"/>
<rect x="363.8" y="54.2" width="2" height="2" fill="#5ccabe" opacity="0.4"/>
<rect x="362.9" y="47.9" width="2" height="2" fill="#5ccabe" opacity="0.54"/>
<rect x="362.2" y="52.1" width="2" height="2" fill="#5ccabe" opacity="0.47"/>
<rect x="398.1" y="47.5" width="2" height="2" fill="#5ccabe" opacity="0.58"/>
<rect x="378.2" y="62.9" width="2" height="2" fill="#5ccabe" opacity="0.57"/>
<rect x="370.3" y="49.3" width="2" height="2" fill="#5ccabe" opacity="0.41"/>
<rect x="432" y="0" width="48" height="72" fill="#4dbfb3"/>
<rect x="434" y="0" width="2.5" height="72" fill="#69c8be" opacity="0.7"/>
<rect x="440" y="0" width="2.5" height="72" fill="#69c8be" opacity="0.7"/>
<rect x="446" y="0" width="2.5" height="72" fill="#69c8be" opacity="0.7"/>
<rect x="452" y="0" width="2.5" height="72" fill="#69c8be" opacity="0.7"/>
<rect x="458" y="0" width="2.5" height="72" fill="#69c8be" opacity="0.7"/>
<rect x="464" y="0" width="2.5" height="72" fill="#69c8be" opacity="0.7"/>
<rect x="470" y="0" width="2.5" height="72" fill="#69c8be" opacity="0.7"/>
<rect x="476" y="0" width="2.5" height="72" fill="#69c8be" opacity="0.7"/>
<rect x="432" y="62" width="48" height="10" fill="#38b7ab" opacity="0.6"/>
<rect x="480" y="0" width="9" height="72" fill="#50bfb4"/>
<rect x="489" y="0" width="14" height="72" fill="#25b1a5"/>
<rect x="503" y="0" width="36" height="72" fill="#5cc2b8"/>
<rect x="505" y="4" width="32" height="1.5" fill="#4cc0b4" opacity="0.6"/>
<rect x="505" y="10" width="32" height="1.5" fill="#4cc0b4" opacity="0.6"/>
<rect x="505" y="16" width="32" height="1.5" fill="#4cc0b4" opacity="0.6"/>
<rect x="505" y="22" width="32" height="1.5" fill="#4cc0b4" opacity="0.6"/>
<rect x="505" y="28" width="32" height="1.5" fill="#4cc0b4" opacity="0.6"/>
<rect x="505" y="34" width="32" height="1.5" fill="#4cc0b4" opacity="0.6"/>
<rect x="505" y="40" width="32" height="1.5" fill="#4cc0b4" opacity="0.6"/>
<rect x="505" y="46" width="32" height="1.5" fill="#4cc0b4" opacity="0.6"/>
<rect x="505" y="52" width="32" height="1.5" fill="#4cc0b4" opacity="0.6"/>
<rect x="505" y="58" width="32" height="1.5" fill="#4cc0b4" opacity="0.6"/>
<rect x="505" y="64" width="32" height="1.5" fill="#4cc0b4" opacity="0.6"/>
<rect x="505" y="70" width="32" height="1.5" fill="#4cc0b4" opacity="0.6"/>
<rect x="539" y="0" width="17" height="72" fill="#2fb5a9"/>
<rect x="556" y="0" width="14" height="72" fill="#60c4ba"/>
<path d="M556,34 L570,43 L570,72 L556,72 Z" fill="#52bfb4"/>
<rect x="570" y="3" width="20" height="69" fill="#3fbaae"/>
<rect x="571" y="8" width="18" height="1.5" fill="#52c0b5" opacity="0.6"/>
<rect x="571" y="15" width="18" height="1.5" fill="#52c0b5" opacity="0.6"/>
<rect x="571" y="22" width="18" height="1.5" fill="#52c0b5" opacity="0.6"/>
<rect x="571" y="29" width="18" height="1.5" fill="#52c0b5" opacity="0.6"/>
<rect x="571" y="36" width="18" height="1.5" fill="#52c0b5" opacity="0.6"/>
<rect x="571" y="43" width="18" height="1.5" fill="#52c0b5" opacity="0.6"/>
<rect x="571" y="50" width="18" height="1.5" fill="#52c0b5" opacity="0.6"/>
<rect x="571" y="57" width="18" height="1.5" fill="#52c0b5" opacity="0.6"/>
<rect x="571" y="64" width="18" height="1.5" fill="#52c0b5" opacity="0.6"/>
<rect x="571" y="71" width="18" height="1.5" fill="#52c0b5" opacity="0.6"/>
<rect x="590" y="0" width="50" height="72" fill="#69c5bc"/>
<rect x="570" y="0" width="20" height="3" fill="#69c5bc"/>
<rect x="600" y="41" width="25" height="31" fill="#55c0b5"/>
<rect x="636" y="8" width="4" height="64" fill="#32b6aa"/>
<path d="M590,14 L596,20 L596,72 L593,72 L593,22 L590,18 Z" fill="#4fc1b5"/>
<path d="M625,22 L636,10 L636,14 L628,23 L628,60 L625,60 Z" fill="#4fc1b5"/>
<rect x="480" y="60" width="160" height="12" fill="#2fb5a9" opacity="0.45"/>
</svg>
</div>

<svg id="main" width="640" height="432" viewBox="0 0 640 432">
<defs>
<g id="srv">
<rect x="1.200" y="1.200" width="48.400" height="16" rx="2.600" ry="2.600" fill="#fff" stroke="#0a335c" stroke-width="2.400"/>
<line x1="7.700" y1="9.200" x2="35.300" y2="9.200" stroke="#0a335c" stroke-width="2" stroke-linecap="round"/>
<circle cx="42.300" cy="9.200" r="2.200" fill="#0a335c"/>
</g>
<g id="srv2">
<use href="#srv" x="0" y="0"/>
<use href="#srv" x="0" y="22.800"/>
</g>
<g id="chat" fill="#fff" stroke="#9c9c9c" stroke-width="1" stroke-linejoin="round">
<path d="M1.500,0.500 H7.700 Q8.700,0.500 8.700,1.500 V5.700 Q8.700,6.700 7.700,6.700 H3 L0.500,8.300 V1.500 Q0.500,0.500 1.500,0.500 Z"/>
<path d="M7.900,3.100 H14.300 Q15.300,3.100 15.300,4.100 V10.500 L12.800,9 H7.900 Q6.900,9 6.900,8 V4.100 Q6.900,3.100 7.900,3.100 Z"/>
</g>
</defs>

<!-- title -->
<text x="32.600" y="44.800" textLength="239.800" lengthAdjust="spacingAndGlyphs" font-family="Liberation Sans, sans-serif" font-weight="bold" font-size="26" fill="#fff">How the DNS works</text>

<!-- step circles -->
<circle cx="121.900" cy="168.800" r="23.100" fill="#0eb0a5"/>
<circle cx="356.600" cy="105.800" r="22.900" fill="#0eb0a5"/>
<circle cx="178.900" cy="330.500" r="23.100" fill="#0eb0a5"/>

<!-- step 1 icon -->
<g fill="none" stroke="#fff" stroke-width="1.800" stroke-linecap="round">
<circle cx="118.600" cy="165.200" r="10"/>
<line x1="125.700" y1="172.300" x2="135.800" y2="182"/>
</g>
<text x="118.500" y="169.900" text-anchor="middle" font-family="Liberation Sans, sans-serif" font-weight="bold" font-size="14" fill="#fff">1</text>

<!-- step 2 icon -->
<g fill="none" stroke="#fff" stroke-width="1.600" stroke-linejoin="round">
<path d="M354,94 H341.500 Q340.500,94 340.500,95 V111.800 L346.500,108.300 H353"/>
<path d="M354,94 H357.500 Q358.700,94 358.700,95 V98.500"/>
<path d="M355.500,98.900 H372 Q373,98.900 373,99.900 V117 L367.500,112.800 H355.500 Q354.500,112.800 354.500,111.800 V99.900 Q354.500,98.900 355.500,98.900 Z"/>
</g>
<text x="363.300" y="110.600" text-anchor="middle" font-family="Liberation Sans, sans-serif" font-weight="bold" font-size="14" fill="#fff">2</text>

<!-- step 3 icon -->
<path d="M166,318.500 H192 Q193,318.500 193,319.500 V343.200 L186,336.800 H166 Q165,336.800 165,335.800 V319.500 Q165,318.500 166,318.500 Z" fill="none" stroke="#fff" stroke-width="1.600" stroke-linejoin="round"/>
<text x="179.200" y="332.100" text-anchor="middle" font-family="Liberation Sans, sans-serif" font-weight="bold" font-size="14" fill="#fff">3</text>

<!-- step texts -->
<g transform="rotate(0.04 300 220)" font-family="Liberation Serif, serif" font-size="11.400" fill="#1c1c1c" stroke="#1c1c1c" stroke-width="0.300">
<text x="149.300" y="166.300" textLength="94" lengthAdjust="spacingAndGlyphs">User enters domain</text>
<text x="149.300" y="177.500" textLength="98.800" lengthAdjust="spacingAndGlyphs">name into a browser</text>
<text x="386.600" y="102.900" textLength="88" lengthAdjust="spacingAndGlyphs">A series of queries</text>
<text x="386.600" y="114.100" textLength="125.300" lengthAdjust="spacingAndGlyphs">and responses is triggered</text>
<text x="204.800" y="328.100" textLength="156.700" lengthAdjust="spacingAndGlyphs">Recursive name server responds</text>
<text x="272.200" y="339.200" textLength="89.300" lengthAdjust="spacingAndGlyphs">with an IP address</text>
</g>

<!-- domain bubble -->
<path d="M132.500,196.500 H262.500 Q264.500,196.500 264.500,198.500 V219.900 Q264.500,221.900 262.500,221.900 H139.500 L130.500,230.800 V198.500 Q130.500,196.500 132.500,196.500 Z" fill="#fff" stroke="#8c8c8c" stroke-width="2" stroke-linejoin="round"/>
<g fill="none" stroke="#9a9a9a" stroke-width="1.100" stroke-linecap="round">
<circle cx="140.900" cy="207.700" r="3.900"/>
<line x1="144.100" y1="210.800" x2="148.500" y2="215.200"/>
</g>
<text transform="rotate(0.05 200 213)" x="154.500" y="213.300" textLength="98" lengthAdjust="spacingAndGlyphs" font-family="Liberation Serif, serif" font-size="13.400" fill="#1c1c1c" stroke="#1c1c1c" stroke-width="0.380">domain-name.com</text>

<!-- IP bubble -->
<path d="M211,280 H271.500 L280,270.900 V303.900 Q280,305.900 278,305.900 H211 Q209,305.900 209,303.900 V282 Q209,280 211,280 Z" fill="#fff" stroke="#8c8c8c" stroke-width="2" stroke-linejoin="round"/>
<text transform="rotate(0.05 245 296)" x="216.900" y="296.700" textLength="56.400" lengthAdjust="spacingAndGlyphs" font-family="Liberation Serif, serif" font-size="13.200" fill="#1c1c1c" stroke="#1c1c1c" stroke-width="0.350">IP address</text>

<!-- servers -->
<use href="#srv2" x="428.700" y="122.300"/>
<use href="#srv2" x="520.900" y="162.200"/>
<use href="#srv2" x="520.900" y="262.400"/>
<use href="#srv2" x="428.500" y="323"/>

<!-- labels -->
<g transform="rotate(0.05 450 270)" font-family="Liberation Sans, sans-serif" font-weight="bold" font-size="9.900" fill="#0a335c">
<text x="329.0" y="189.8" textLength="12.3" lengthAdjust="spacingAndGlyphs">ISP</text>
<text x="311.9" y="199.0" textLength="43.1" lengthAdjust="spacingAndGlyphs">Recursive</text>
<text x="303.8" y="208.1" textLength="63.5" lengthAdjust="spacingAndGlyphs">Name Server/</text>
<text x="306.0" y="216.6" textLength="58.4" lengthAdjust="spacingAndGlyphs">DNS Resolver</text>
<text x="433.6" y="172.9" textLength="41.0" lengthAdjust="spacingAndGlyphs">Root DNS</text>
<text x="529.5" y="213.4" textLength="34.0" lengthAdjust="spacingAndGlyphs">Registry</text>
<text x="529.0" y="221.9" textLength="35.0" lengthAdjust="spacingAndGlyphs">TLD DNS</text>
<text x="527.5" y="312.8" textLength="38.3" lengthAdjust="spacingAndGlyphs">Registrar</text>
<text x="506.5" y="321.7" textLength="79.6" lengthAdjust="spacingAndGlyphs">Authoritative DNS</text>
<text x="436.5" y="373.9" textLength="35.4" lengthAdjust="spacingAndGlyphs">Content</text>
<text x="438.0" y="382.6" textLength="32.0" lengthAdjust="spacingAndGlyphs">Servers</text>
</g>

<!-- globe -->
<g fill="none" stroke="#0a335c" stroke-width="3.900">
<circle cx="335.300" cy="252" r="30.300"/>
<line x1="335.300" y1="221" x2="335.300" y2="283"/>
<line x1="305" y1="252" x2="366" y2="252"/>
<ellipse cx="335.300" cy="252" rx="13.800" ry="30.300"/>
<path d="M309.500,236.300 H361.200"/>
<path d="M309.500,267.400 H361.200"/>
</g>

<!-- laptop -->
<g fill="none" stroke="#0a335c" stroke-width="3.600">
<path d="M64.200,277 V240.300 Q64.200,236.300 68.200,236.300 H123.700 Q127.700,236.300 127.700,240.300 V277"/>
<path d="M54.600,277.500 H137.500 V283 Q137.500,289.200 131.300,289.200 H60.800 Q54.600,289.200 54.600,283 Z"/>
</g>
<path d="M88,244.400 L88,266.700 L93.300,262 L97.300,269.500 L100.700,267.800 L96.800,260.300 L103.700,259.700 Z" fill="#0a335c"/>

<!-- arrows -->
<g fill="none" stroke="#858688" stroke-width="1.700">
<path d="M139.0,252.5 L271.5,252.5 M265.9,255.9 L271.5,252.5 L265.9,249.1"/>
<path d="M300.0,266.0 L167.0,266.0 M172.6,262.6 L167.0,266.0 L172.6,269.4"/>
<path d="M369.7,216.6 L414.0,177.3 M412.1,183.6 L414.0,177.3 L407.6,178.5"/>
<path d="M413.5,185.5 L368.9,226.2 M370.7,219.9 L368.9,226.2 L375.3,224.9"/>
<path d="M383.4,238.5 L508.5,198.2 M504.2,203.2 L508.5,198.2 L502.1,196.7"/>
<path d="M504.0,205.9 L378.3,246.1 M382.6,241.2 L378.3,246.1 L384.7,247.6"/>
<path d="M384.7,257.8 L513.6,284.6 M507.4,286.8 L513.6,284.6 L508.8,280.1"/>
<path d="M505.2,288.9 L376.6,262.9 M382.8,260.7 L376.6,262.9 L381.4,267.3"/>
<path d="M407.6,324.1 L367.1,280.3 M373.4,282.1 L367.1,280.3 L368.4,286.7"/>
<path d="M375.8,280.8 L415.5,324.6 M409.2,322.7 L415.5,324.6 L414.3,318.2"/>
</g>

<!-- chat icons -->
<use href="#chat" x="376.6" y="183.4"/>
<use href="#chat" x="431.8" y="203.2"/>
<use href="#chat" x="447.9" y="258.7"/>
<use href="#chat" x="400.0" y="294.4"/>

<!-- logo -->
<g fill="none" stroke-width="5.800" stroke-linecap="butt">
<path d="M49.500,393.700 A11.350,11.350 0 1 0 41.600,412" stroke="#0a335c"/>
<path d="M67,389.500 A11.300,11.300 0 1 1 59,408.100" stroke="#a0a2a5"/>
<path d="M40.300,412 A11.350,11.350 0 0 0 50.100,406.900 L58.200,394.600 A11.300,11.300 0 0 1 68,389.600" stroke="#17aaa3" stroke-width="5.600"/>
</g>
<rect x="39.300" y="407" width="3" height="9" fill="#fff"/>
<rect x="65.600" y="385" width="3.500" height="8" fill="#fff"/>
<circle cx="79.800" cy="413.800" r="0.900" fill="#b5b5b5"/>
<text x="86.800" y="409.800" textLength="50.800" lengthAdjust="spacingAndGlyphs" font-family="Liberation Sans, sans-serif" font-weight="bold" font-size="25" fill="#0a335c">CSC</text>
</svg>

<div id="hdrfade" style="position:absolute;left:0;top:72px;width:640px;height:1px;background:#d8f0ed;"></div>
<div id="botline"></div>
</body>
</html>
